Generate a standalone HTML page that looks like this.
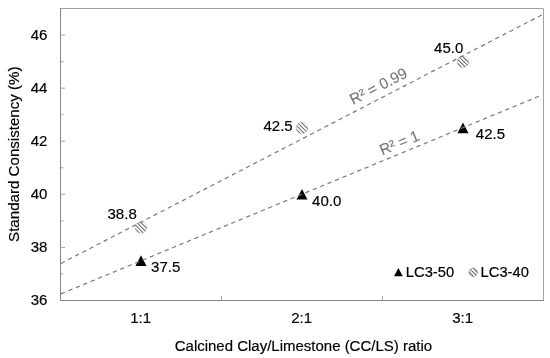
<!DOCTYPE html>
<html><head><meta charset="utf-8"><title>Standard Consistency chart</title>
<style>
html,body{margin:0;padding:0;background:#fff;}
svg{display:block;font-family:"Liberation Sans",Arial,sans-serif;}
</style></head><body>
<svg width="550" height="358" viewBox="0 0 550 358">
<defs>
<clipPath id="cc"><circle r="5.8"/></clipPath>
<clipPath id="cl"><circle r="4.2"/></clipPath>
<g id="mk"><circle r="5.8" fill="#fff" stroke="#c8c8c8" stroke-width="0.7"/><g clip-path="url(#cc)"><path transform="rotate(45)" d="M-7 -3.40h14M-7 -0.57h14M-7 2.26h14M-7 5.09h14" stroke="#5e5e5e" stroke-width="0.95" fill="none"/></g></g>
<g id="ml"><circle r="4.2" fill="#fff" stroke="#a6a6a6" stroke-width="0.8"/><g clip-path="url(#cl)"><path transform="rotate(45)" d="M-6 -2.83h12M-6 0h12M-6 2.83h12" stroke="#5e5e5e" stroke-width="0.95" fill="none"/></g></g>
</defs>
<rect width="550" height="358" fill="#fff"/>
<path d="M60.5 8.5H543.5V300.5" fill="none" stroke="#a3a3a3" stroke-width="1"/><path d="M60.5 8.0V300.5H544.0" fill="none" stroke="#858585" stroke-width="1"/>
<g stroke="#a6a6a6" stroke-width="1"><path d="M60.5 273.95h3M60.5 247.41h4.5M60.5 220.86h3M60.5 194.32h4.5M60.5 167.77h3M60.5 141.23h4.5M60.5 114.68h3M60.5 88.14h4.5M60.5 61.59h3M60.5 35.05h4.5"/><path d="M221.5 300.5v-4.5M382.5 300.5v-4.5"/></g>
<g>
<use href="#mk" x="141" y="227.50"/>
<use href="#mk" x="302" y="127.95"/>
<use href="#mk" x="463" y="61.59"/>
</g>
<g fill="#000">
<path d="M141 255.28l5.5 10.7h-11z"/>
<path d="M302 188.92l5.5 10.7h-11z"/>
<path d="M463 122.55l5.5 10.7h-11z"/>
</g>
<g stroke="#7a7a7a" stroke-width="1.2" stroke-dasharray="4.3 3.713" fill="none">
<path d="M61.0 263.45L542.5 14.58"/>
<path d="M61.0 293.86L542.5 94.77"/>
</g>
<text transform="translate(47.50 305.10) scale(0.9756 1)" font-size="15.43" text-anchor="end" fill="#000" stroke="#000" stroke-width="0.18">36</text>
<text transform="translate(47.50 252.01) scale(0.9756 1)" font-size="15.43" text-anchor="end" fill="#000" stroke="#000" stroke-width="0.18">38</text>
<text transform="translate(47.50 198.92) scale(0.9756 1)" font-size="15.43" text-anchor="end" fill="#000" stroke="#000" stroke-width="0.18">40</text>
<text transform="translate(47.50 145.83) scale(0.9756 1)" font-size="15.43" text-anchor="end" fill="#000" stroke="#000" stroke-width="0.18">42</text>
<text transform="translate(47.50 92.74) scale(0.9756 1)" font-size="15.43" text-anchor="end" fill="#000" stroke="#000" stroke-width="0.18">44</text>
<text transform="translate(47.50 39.65) scale(0.9756 1)" font-size="15.43" text-anchor="end" fill="#000" stroke="#000" stroke-width="0.18">46</text>
<text transform="translate(140.70 323.30) scale(0.9756 1)" font-size="15.43" text-anchor="middle" fill="#000" stroke="#000" stroke-width="0.18">1:1</text>
<text transform="translate(301.70 323.30) scale(0.9756 1)" font-size="15.43" text-anchor="middle" fill="#000" stroke="#000" stroke-width="0.18">2:1</text>
<text transform="translate(462.70 323.30) scale(0.9756 1)" font-size="15.43" text-anchor="middle" fill="#000" stroke="#000" stroke-width="0.18">3:1</text>
<text transform="translate(303.40 351.30) scale(0.9756 1)" font-size="15.37" text-anchor="middle" fill="#000" stroke="#000" stroke-width="0.18">Calcined Clay/Limestone (CC/LS) ratio</text>
<text transform="translate(18.60 154.20) rotate(-90) scale(0.9756 1)" font-size="15.50" text-anchor="middle" fill="#000" stroke="#000" stroke-width="0.18">Standard Consistency (%)</text>
<text transform="translate(107.50 218.80) scale(0.9756 1)" font-size="15.43" fill="#000" stroke="#000" stroke-width="0.18">38.8</text>
<text transform="translate(263.40 130.90) scale(0.9756 1)" font-size="15.43" fill="#000" stroke="#000" stroke-width="0.18">42.5</text>
<text transform="translate(434.10 53.10) scale(0.9756 1)" font-size="15.43" fill="#000" stroke="#000" stroke-width="0.18">45.0</text>
<text transform="translate(151.10 271.50) scale(0.9756 1)" font-size="15.43" fill="#000" stroke="#000" stroke-width="0.18">37.5</text>
<text transform="translate(312.10 205.70) scale(0.9756 1)" font-size="15.43" fill="#000" stroke="#000" stroke-width="0.18">40.0</text>
<text transform="translate(475.80 139.10) scale(0.9756 1)" font-size="15.43" fill="#000" stroke="#000" stroke-width="0.18">42.5</text>
<text transform="translate(353.00 105.00) rotate(-27) scale(0.9756 1)" font-size="15.43" fill="#757575" stroke="#757575" stroke-width="0.12">R² = 0.99</text>
<text transform="translate(382.20 155.50) rotate(-22.4) scale(0.9756 1)" font-size="15.43" fill="#757575" stroke="#757575" stroke-width="0.12">R² = 1</text>
<path d="M398.4 268l4.35 8.3h-8.7z" fill="#000"/>
<use href="#ml" x="473.2" y="272.2"/>
<text transform="translate(405.80 277.10) scale(0.9756 1)" font-size="15.12" fill="#000" stroke="#000" stroke-width="0.18">LC3-50</text>
<text transform="translate(480.55 277.10) scale(0.9756 1)" font-size="15.12" fill="#000" stroke="#000" stroke-width="0.18">LC3-40</text>
</svg>
</body></html>
